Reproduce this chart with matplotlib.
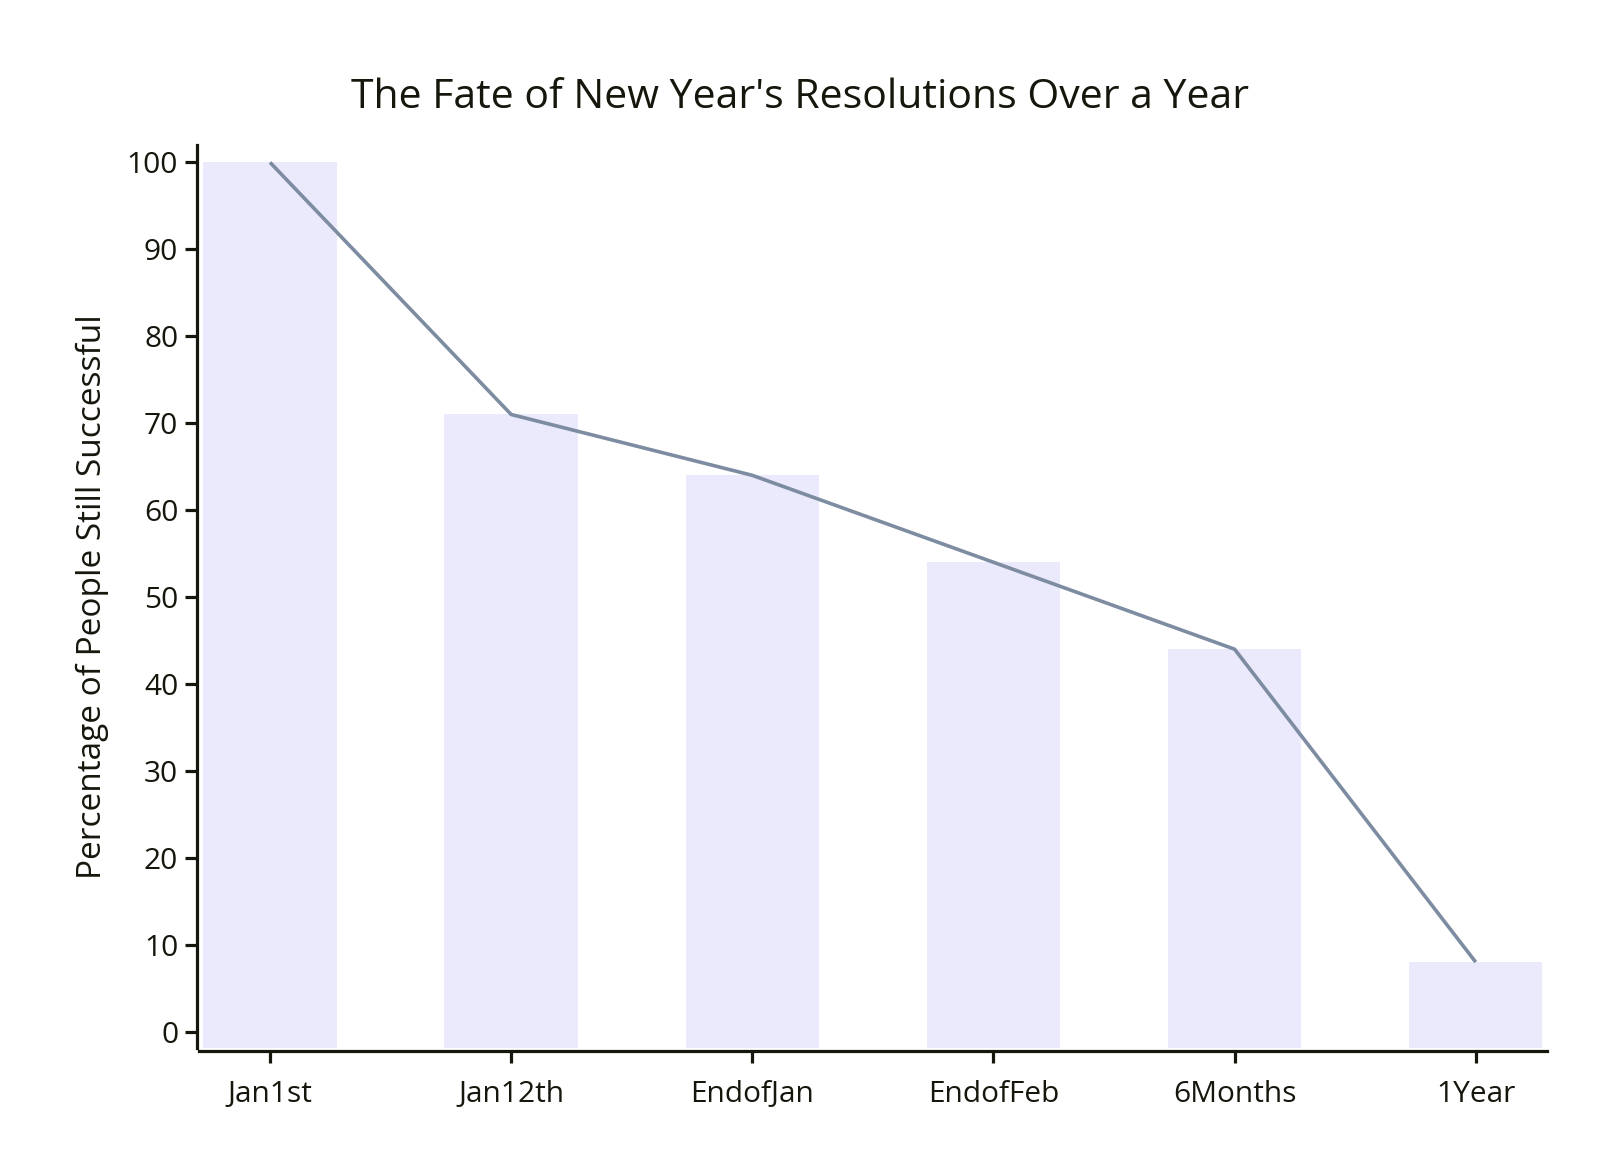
import matplotlib
matplotlib.use("Agg")
import matplotlib.pyplot as plt
import numpy as np

# data
stages = ["Jan1st", "Jan12th", "EndofJan", "EndofFeb", "6Months", "1Year"]
success_pct = [100, 71, 64, 54, 44, 8]
y_ticks = [0, 10, 20, 30, 40, 50, 60, 70, 80, 90, 100]

TEXT = "#16160c"
plt.rcParams["font.family"] = ["Open Sans", "DejaVu Sans"]

W, H = 1600, 1173
fig = plt.figure(figsize=(W / 100, H / 100), dpi=100)
ax = fig.add_axes([199 / W, 1 - 1048 / H, (1547 - 199) / W, (1048 - 145) / H])

x = np.arange(len(stages))
y_lo, y_hi = -1.88, 102.0
ax.bar(x, np.array(success_pct) - y_lo, bottom=y_lo, width=0.553,
       color="#eaeafc", linewidth=0, zorder=1)
ax.plot(x, success_pct, color="#7d8ca1", linewidth=2.6, zorder=2,
        solid_capstyle="butt")

ax.set_xlim(-0.2945, len(stages) - 1 + 0.2957)
ax.set_ylim(y_lo, y_hi)
ax.set_xticks(x, stages)
ax.set_yticks(y_ticks)

for side in ("top", "right"):
    ax.spines[side].set_visible(False)
ax.spines["left"].set_position(("outward", 1.5))
ax.spines["bottom"].set_position(("outward", 2.2))
for side in ("left", "bottom"):
    ax.spines[side].set_linewidth(2.3)
    ax.spines[side].set_color(TEXT)

ax.tick_params(axis="both", colors=TEXT, width=2.3, length=8.5,
               labelsize=21.5, labelcolor=TEXT)
ax.tick_params(axis="y", pad=5)
ax.tick_params(axis="x", pad=12)

ax.set_ylabel("Percentage of People Still Successful", fontsize=24,
              color=TEXT, labelpad=13)
fig.text(0.5, 1 - 98 / H, "The Fate of New Year's Resolutions Over a Year",
         ha="center", va="center", fontsize=29.5, color=TEXT)

fig.savefig("out.png", dpi=100, facecolor="white")
